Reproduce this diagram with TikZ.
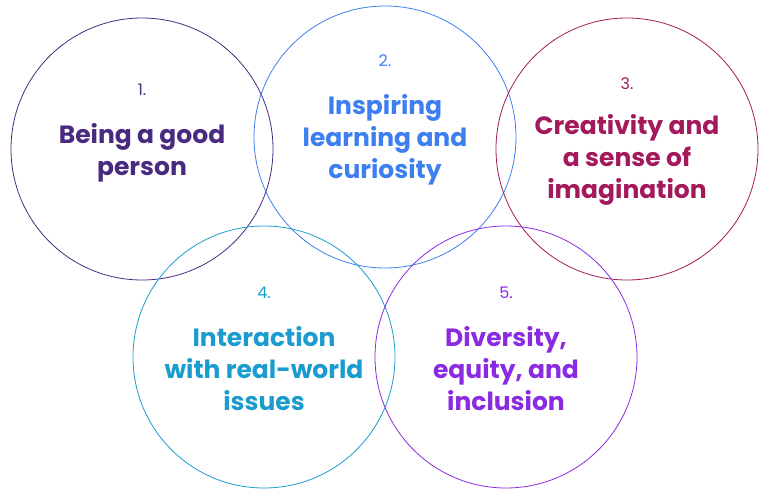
\documentclass[tikz,border=0pt]{standalone}
\usepackage{fontspec}
\setmainfont{Poppins}
\definecolor{c1}{HTML}{4A2A7F}
\definecolor{c2}{HTML}{3D7FF0}
\definecolor{c3}{HTML}{A3195B}
\definecolor{c4}{HTML}{1B9CCF}
\definecolor{c5}{HTML}{8A2BE2}
\begin{document}
\begin{tikzpicture}[x=1pt,y=-1pt,
  ring/.style={circle,draw=#1,line width=0.8pt,minimum size=262pt,inner sep=0pt},
  num/.style={text=#1,font=\fontsize{16}{16}\selectfont,anchor=center},
  lab/.style={text=#1,font=\fontsize{25}{32}\selectfont\bfseries,align=center,anchor=center}]
\useasboundingbox (0,0) rectangle (768,495);
\node[ring=c1] (r1) at (142,149) {};
\node[ring=c2] (r2) at (385,137) {};
\node[ring=c3] (r3) at (627,149) {};
\node[ring=c4] (r4) at (264,357) {};
\node[ring=c5] (r5) at (506,357) {};
\node[num=c1] (n1) at (142,90) {1.};
\node[num=c2] (n2) at (385,61) {2.};
\node[num=c3] (n3) at (627,84) {3.};
\node[num=c4] (n4) at (264,293) {4.};
\node[num=c5] (n5) at (506,293) {5.};
\node[lab=c1] (t1) at (142,153) {Being a good\\person};
\node[lab=c2] (t2) at (385,140) {Inspiring\\learning and\\curiosity};
\node[lab=c3] (t3) at (627,160) {Creativity and\\a sense of\\imagination};
\node[lab=c4] (t4) at (264,369) {Interaction\\with real-world\\issues};
\node[lab=c5] (t5) at (506,369) {Diversity,\\equity, and\\inclusion};
\end{tikzpicture}
\end{document}
